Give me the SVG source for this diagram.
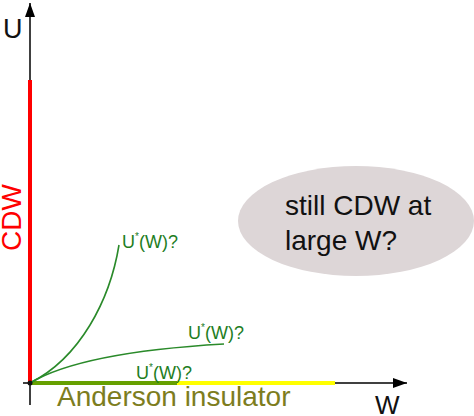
<svg xmlns="http://www.w3.org/2000/svg" width="474" height="416" viewBox="0 0 474 416">
<defs>
<style>
.t{font-family:"Liberation Sans",Arial,sans-serif}
.g{fill:#1e7d1e;font-size:18px}
.c{fill:none;stroke:#2a8a2a;stroke-width:1.6}
</style>
<marker id="ah" viewBox="0 0 14 10" refX="14" refY="5" markerWidth="14" markerHeight="10" markerUnits="userSpaceOnUse" orient="auto">
<path d="M0,0 L14,5 L0,10 Z" fill="#000"/>
</marker>
</defs>
<rect width="474" height="416" fill="#fff"/>
<g id="bubble">
<ellipse cx="356" cy="221" rx="118" ry="55" fill="#ddd6d7"/>
<text class="t" x="285" y="215" font-size="28" fill="#111">still CDW at</text>
<text class="t" x="285" y="250" font-size="28" fill="#111">large W?</text>
</g>
<g id="connectors">
<line x1="30" y1="405" x2="30" y2="3" stroke="#000" stroke-width="1.5" marker-end="url(#ah)"/>
<line x1="23" y1="383" x2="407" y2="383" stroke="#000" stroke-width="1.5" marker-end="url(#ah)"/>
<line x1="30" y1="80" x2="30" y2="383" stroke="#ff0000" stroke-width="4"/>
<line x1="177" y1="383" x2="335" y2="383" stroke="#ffff00" stroke-width="4"/>
<line x1="30" y1="383" x2="177" y2="383" stroke="#66a000" stroke-width="4"/>
<path class="c" d="M30,383 C80,358 110,300 119,245"/>
<path class="c" d="M30,383 C60,365 120,350 224,344"/>
<circle cx="30" cy="383" r="2.5" fill="#111"/>
</g>
<g id="labels">
<text class="t" x="3" y="38" font-size="27" fill="#111">U</text>
<text class="t" x="375" y="414" font-size="26" fill="#111">W</text>
<text class="t" transform="translate(21,217.5) rotate(-90)" text-anchor="middle" font-size="28" fill="#ff0000">CDW</text>
<text class="t" x="57" y="406" font-size="28" fill="#7d7d1e">Anderson insulator</text>
<text class="t g" x="122" y="248">U<tspan font-size="10" dy="-8">*</tspan><tspan dy="8">(W)?</tspan></text>
<text class="t g" x="188" y="339">U<tspan font-size="10" dy="-8">*</tspan><tspan dy="8">(W)?</tspan></text>
<text class="t g" x="136" y="379">U<tspan font-size="10" dy="-8">*</tspan><tspan dy="8">(W)?</tspan></text>
</g>
</svg>
